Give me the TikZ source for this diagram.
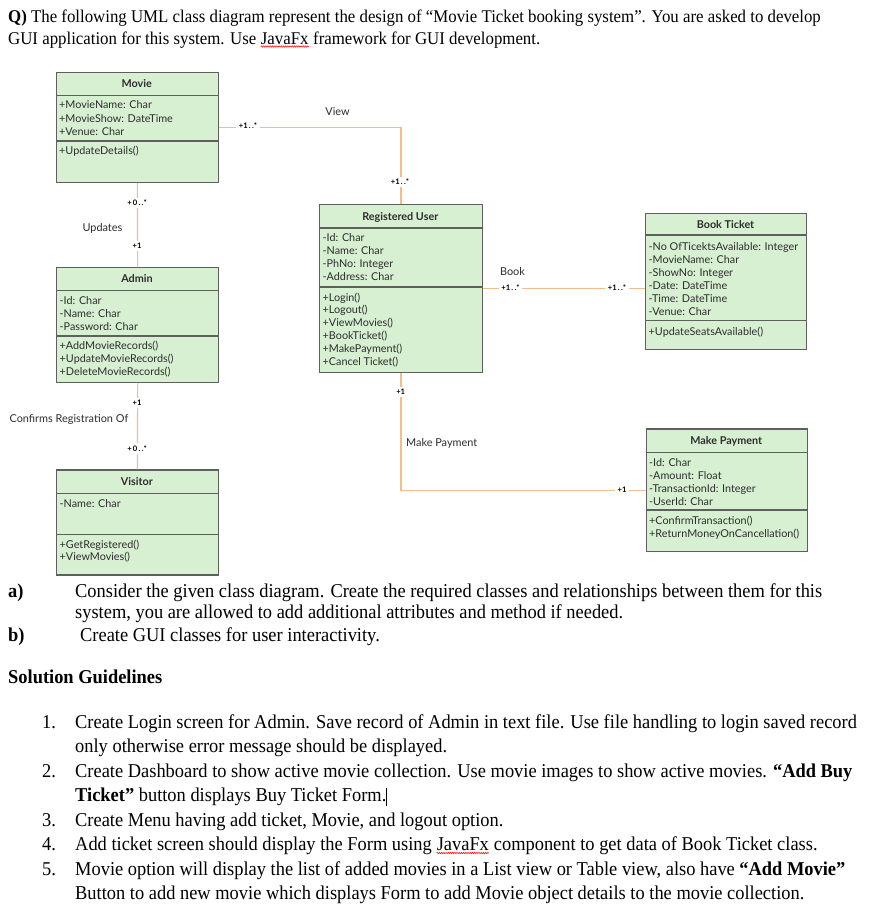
\documentclass[tikz,border=0pt]{standalone}
\usepackage{fontspec}
\setmainfont{Liberation Serif}[FakeStretch=0.94]
\newfontfamily\umlfont{Lato}
\usetikzlibrary{decorations.pathmorphing}
\definecolor{boxfill}{RGB}{215,240,210}
\definecolor{boxline}{RGB}{95,95,95}
\definecolor{conn}{RGB}{245,188,140}
\definecolor{umltext}{RGB}{45,45,45}
\tikzset{
  umlbox/.style={draw=boxline, fill=boxfill, line width=1.3pt, anchor=north west, inner sep=0pt},
  sepline/.style={draw=boxline, line width=1.3pt},
  attr/.style={anchor=base west, inner sep=0pt, font=\umlfont\fontsize{10.8}{12}\selectfont, text=umltext},
  head/.style={anchor=base, inner sep=0pt, font=\umlfont\bfseries\fontsize{10.8}{12}\selectfont, text=umltext},
  connline/.style={draw=conn, line width=1.2pt},
  mult/.style={fill=white, inner sep=2.5pt, font=\umlfont\bfseries\fontsize{7.6}{8}\selectfont, text=black},
  rel/.style={inner sep=0pt, font=\umlfont\fontsize{10.9}{12}\selectfont, text=umltext},
  topt/.style={anchor=base west, inner sep=0pt, font=\fontsize{17.9}{21}\selectfont},
  body/.style={anchor=base west, inner sep=0pt, font=\fontsize{19.6}{23}\selectfont},
  squiggle/.style={draw=red, line width=0.5pt, decorate, decoration={snake, amplitude=0.7pt, segment length=2.2pt}},
}
\begin{document}
\begin{tikzpicture}[x=1pt,y=-1pt]
\useasboundingbox[fill=white] (0,0) rectangle (871,918);

% ---------- top text
\node[topt] (q1) at (8,23) {\textbf{Q)} The following UML class diagram represent the design of “Movie Ticket booking system”. You are asked to develop};
\node[topt] (q2a) at (8,44) {GUI application for this system. Use};
\node[topt] (q2b) at ([xshift=4.2pt]q2a.base east) {JavaFx};
\node[topt] (q2c) at ([xshift=4.2pt]q2b.base east) {framework for GUI development.};
\draw[squiggle] ([yshift=-2.5pt]q2b.base west) -- ([yshift=-2.5pt]q2b.base east);

% ---------- boxes
\node[umlbox, minimum width=162pt, minimum height=110pt] (movie) at (55.7,71.7) {};
\draw[sepline] (55.7,95.7) -- (217.7,95.7);
\draw[sepline] (55.7,141) -- (217.7,141);
\node[head] (mvh) at (136.7,87.7) {Movie};
\node[attr] (mv1) at (59,108.5) {+MovieName: Char};
\node[attr] (mv2) at (59,122) {+MovieShow: DateTime};
\node[attr] (mv3) at (59,135) {+Venue: Char};
\node[attr] (mv4) at (59,154.7) {+UpdateDetails()};

\node[umlbox, minimum width=162pt, minimum height=115.3pt] (admin) at (56,266.7) {};
\draw[sepline] (56,290.7) -- (218,290.7);
\draw[sepline] (56,336) -- (218,336);
\node[head] (adh) at (137,282.7) {Admin};
\node[attr] (ad1) at (59.5,304) {-Id: Char};
\node[attr] (ad2) at (59.5,317) {-Name: Char};
\node[attr] (ad3) at (59.5,330) {-Password: Char};
\node[attr] (ad4) at (59.5,349) {+AddMovieRecords()};
\node[attr] (ad5) at (59.5,362) {+UpdateMovieRecords()};
\node[attr] (ad6) at (59.5,375.5) {+DeleteMovieRecords()};

\node[umlbox, minimum width=162.7pt, minimum height=167.7pt] (ru) at (319,204) {};
\draw[sepline] (319,228) -- (481.7,228);
\draw[sepline] (319,287) -- (481.7,287);
\node[head] (ruh) at (400.3,220) {Registered User};
\node[attr] (ru1) at (322.5,241.7) {-Id: Char};
\node[attr] (ru2) at (322.5,254.9) {-Name: Char};
\node[attr] (ru3) at (322.5,267.8) {-PhNo: Integer};
\node[attr] (ru4) at (322.5,280.7) {-Address: Char};
\node[attr] (ru5) at (322.5,301) {+Login()};
\node[attr] (ru6) at (322.5,313.5) {+Logout()};
\node[attr] (ru7) at (322.5,326.1) {+ViewMovies()};
\node[attr] (ru8) at (322.5,339) {+BookTicket()};
\node[attr] (ru9) at (322.5,352) {+MakePayment()};
\node[attr] (ru10) at (322.5,365.5) {+Cancel Ticket()};

\node[umlbox, minimum width=161pt, minimum height=136pt] (bt) at (645,213) {};
\draw[sepline] (645,235) -- (806,235);
\draw[sepline] (645,320.7) -- (806,320.7);
\node[head] (bth) at (725.5,228) {Book Ticket};
\node[attr] (bt1) at (648.5,250.7) {-No OfTicektsAvailable: Integer};
\node[attr] (bt2) at (648.5,263.6) {-MovieName: Char};
\node[attr] (bt3) at (648.5,276.5) {-ShowNo: Integer};
\node[attr] (bt4) at (648.5,289.4) {-Date: DateTime};
\node[attr] (bt5) at (648.5,302.3) {-Time: DateTime};
\node[attr] (bt6) at (648.5,315.2) {-Venue: Char};
\node[attr] (bt7) at (648.5,335.7) {+UpdateSeatsAvailable()};

\node[umlbox, minimum width=161.3pt, minimum height=122.7pt] (mp) at (645.7,428.3) {};
\draw[sepline] (645.7,452.3) -- (807,452.3);
\draw[sepline] (645.7,510) -- (807,510);
\node[head] (mph) at (726.3,444) {Make Payment};
\node[attr] (mp1) at (649,466.3) {-Id: Char};
\node[attr] (mp2) at (649,479.3) {-Amount: Float};
\node[attr] (mp3) at (649,492.3) {-TransactionId: Integer};
\node[attr] (mp4) at (649,505.3) {-UserId: Char};
\node[attr] (mp5) at (649,524) {+ConfirmTransaction()};
\node[attr] (mp6) at (649,537.3) {+ReturnMoneyOnCancellation()};

\node[umlbox, minimum width=161.7pt, minimum height=105pt] (vis) at (56,469.3) {};
\draw[sepline] (56,493.3) -- (217.7,493.3);
\draw[sepline] (56,534.3) -- (217.7,534.3);
\node[head] (vih) at (136.8,485) {Visitor};
\node[attr] (vi1) at (59.5,507.3) {-Name: Char};
\node[attr] (vi2) at (59.5,548) {+GetRegistered()};
\node[attr] (vi3) at (59.5,560.7) {+ViewMovies()};

% ---------- connectors
\draw[connline] (movie.east) -| (ru.north);
\draw[connline] (movie.south) -- (admin.north);
\draw[connline] (admin.south) -- (vis.north);
\draw[connline] (ru.east) -- (ru.east -| bt.west);
\draw[connline] (ru.south) |- (mp.west);

% ---------- connector labels
\node[mult] (c1) at (248,126) {+1\,.\,.*};
\node[rel] (c2) at (337.5,111.7) {View};
\node[mult] (c3) at (400,182) {+1\,.\,.*};
\node[mult] (c4) at (137,203) {+\,0\,.\,.*};
\node[rel, anchor=east] (c5) at (122.5,228) {Updates};
\node[mult] (c6) at (137,246) {+1};
\node[mult] (c7) at (137,403) {+1};
\node[rel, anchor=east] (c8) at (128.5,419.5) {Confirms Registration Of};
\node[mult] (c9) at (137,448.3) {+\,0\,.\,.*};
\node[rel] (c10) at (512.5,271.7) {Book};
\node[mult] (c11) at (510.5,288) {+1\,.\,.*};
\node[mult] (c12) at (617,288) {+1\,.\,.*};
\node[mult] (c13) at (400.7,392) {+1};
\node[rel, anchor=west] (c14) at (406,443) {Make Payment};
\node[mult] (c15) at (622,489.7) {+1};

% ---------- bottom text
\node[body] (a1) at (8,597.5) {\textbf{a)}};
\node[body] (a2) at (75,597.5) {Consider the given class diagram. Create the required classes and relationships between them for this};
\node[body] (a3) at (75,618.5) {system, you are allowed to add additional attributes and method if needed.};
\node[body] (b1) at (8,641.5) {\textbf{b)}};
\node[body] (b2) at (80,641.5) {Create GUI classes for user interactivity.};
\node[body] (sg) at (8,683.5) {\textbf{Solution Guidelines}};

\node[body] (n1) at (42,728) {1.};
\node[body] (t1a) at (75,728) {Create Login screen for Admin. Save record of Admin in text file. Use file handling to login saved record};
\node[body] (t1b) at (75,752) {only otherwise error message should be displayed.};
\node[body] (n2) at (42,777.5) {2.};
\node[body] (t2a) at (75,777.5) {Create Dashboard to show active movie collection. Use movie images to show active movies. \textbf{“Add Buy}};
\node[body] (t2b) at (75,801.5) {\textbf{Ticket”} button displays Buy Ticket Form.\rule[-4pt]{0.6pt}{18pt}};
\node[body] (n3) at (42,826.5) {3.};
\node[body] (t3) at (75,826.5) {Create Menu having add ticket, Movie, and logout option.};
\node[body] (n4) at (42,850.5) {4.};
\node[body] (t4a) at (75,850.5) {Add ticket screen should display the Form using};
\node[body] (t4b) at ([xshift=4.5pt]t4a.base east) {JavaFx};
\node[body] (t4c) at ([xshift=4.5pt]t4b.base east) {component to get data of Book Ticket class.};
\draw[squiggle] ([yshift=-2.5pt]t4b.base west) -- ([yshift=-2.5pt]t4b.base east);
\node[body] (n5) at (42,875.5) {5.};
\node[body] (t5a) at (75,875.5) {Movie option will display the list of added movies in a List view or Table view, also have \textbf{“Add Movie”}};
\node[body] (t5b) at (75,899.5) {Button to add new movie which displays Form to add Movie object details to the movie collection.};
\end{tikzpicture}
\end{document}
